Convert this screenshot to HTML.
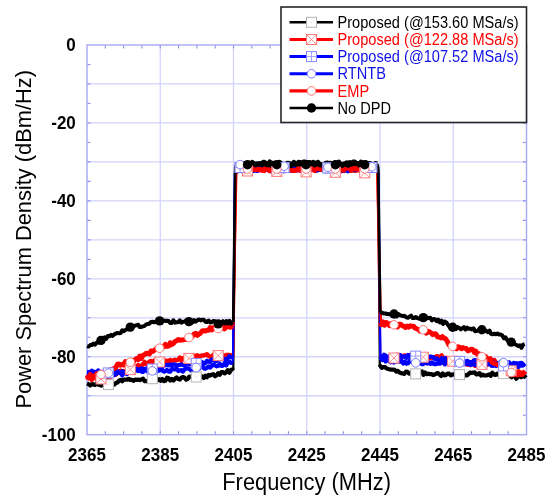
<!DOCTYPE html>
<html><head><meta charset="utf-8"><title>Power Spectrum Density</title>
<style>html,body{margin:0;padding:0;background:#fff;}svg{display:block;}</style>
</head><body>
<svg width="550" height="501" viewBox="0 0 550 501"><rect x="0" y="0" width="550" height="501" fill="#fff"/>
<path d="M160.25 45.0V434.7 M233.50 45.0V434.7 M306.75 45.0V434.7 M380.00 45.0V434.7 M453.25 45.0V434.7 M87.0 83.97H526.5 M87.0 122.94H526.5 M87.0 161.91H526.5 M87.0 200.88H526.5 M87.0 239.85H526.5 M87.0 278.82H526.5 M87.0 317.79H526.5 M87.0 356.76H526.5 M87.0 395.73H526.5" stroke="#d3d4fc" stroke-width="1.3" fill="none"/>
<path d="M105.31 434.7v-3.5M105.31 45.0v3.5 M123.62 434.7v-3.5M123.62 45.0v3.5 M141.94 434.7v-3.5M141.94 45.0v3.5 M160.25 434.7v-3.5M160.25 45.0v3.5 M178.56 434.7v-3.5M178.56 45.0v3.5 M196.88 434.7v-3.5M196.88 45.0v3.5 M215.19 434.7v-3.5M215.19 45.0v3.5 M233.50 434.7v-3.5M233.50 45.0v3.5 M251.81 434.7v-3.5M251.81 45.0v3.5 M270.12 434.7v-3.5M270.12 45.0v3.5 M288.44 434.7v-3.5M288.44 45.0v3.5 M306.75 434.7v-3.5M306.75 45.0v3.5 M325.06 434.7v-3.5M325.06 45.0v3.5 M343.38 434.7v-3.5M343.38 45.0v3.5 M361.69 434.7v-3.5M361.69 45.0v3.5 M380.00 434.7v-3.5M380.00 45.0v3.5 M398.31 434.7v-3.5M398.31 45.0v3.5 M416.62 434.7v-3.5M416.62 45.0v3.5 M434.94 434.7v-3.5M434.94 45.0v3.5 M453.25 434.7v-3.5M453.25 45.0v3.5 M471.56 434.7v-3.5M471.56 45.0v3.5 M489.88 434.7v-3.5M489.88 45.0v3.5 M508.19 434.7v-3.5M508.19 45.0v3.5 M87.0 64.48h3.5M526.5 64.48h-3.5 M87.0 83.97h3.5M526.5 83.97h-3.5 M87.0 103.45h3.5M526.5 103.45h-3.5 M87.0 122.94h3.5M526.5 122.94h-3.5 M87.0 142.43h3.5M526.5 142.43h-3.5 M87.0 161.91h3.5M526.5 161.91h-3.5 M87.0 181.39h3.5M526.5 181.39h-3.5 M87.0 200.88h3.5M526.5 200.88h-3.5 M87.0 220.37h3.5M526.5 220.37h-3.5 M87.0 239.85h3.5M526.5 239.85h-3.5 M87.0 259.34h3.5M526.5 259.34h-3.5 M87.0 278.82h3.5M526.5 278.82h-3.5 M87.0 298.31h3.5M526.5 298.31h-3.5 M87.0 317.79h3.5M526.5 317.79h-3.5 M87.0 337.27h3.5M526.5 337.27h-3.5 M87.0 356.76h3.5M526.5 356.76h-3.5 M87.0 376.25h3.5M526.5 376.25h-3.5 M87.0 395.73h3.5M526.5 395.73h-3.5 M87.0 415.21h3.5M526.5 415.21h-3.5" stroke="#8e8ef0" stroke-width="1.1" fill="none"/>
<rect x="87.0" y="45.0" width="439.5" height="389.7" stroke="#acadf3" stroke-width="1.5" fill="none"/>
<path d="M233.3 370.4 235.2 170.0 236.0 166.8 237.4 166.0 M376.0 166.0 377.4 166.8 378.2 170.0 379.8 367.0" stroke="#000" stroke-width="2.2" fill="none" stroke-linejoin="round"/><path d="M87.0 383.5 88.6 384.1 90.2 385.5 91.8 384.1 93.4 384.4 95.0 384.9 96.6 383.5 98.2 384.6 99.8 385.0 101.4 385.6 103.0 383.2 104.6 383.9 106.2 383.2 107.8 385.7 109.4 384.9 111.0 382.3 112.6 385.1 114.2 384.6 115.8 383.1 117.4 382.6 119.0 380.6 120.6 379.8 122.2 381.3 123.8 379.5 125.4 379.7 127.0 379.7 128.6 378.8 130.2 380.0 131.8 379.7 133.4 380.9 135.0 379.6 136.6 380.0 138.2 379.5 139.8 380.1 141.4 379.4 143.0 378.7 144.6 381.2 146.2 381.2 147.8 380.7 149.4 380.2 151.0 378.9 152.6 378.6 154.2 378.8 155.8 378.0 157.4 380.4 159.0 379.2 160.6 380.7 162.2 379.1 163.8 381.1 165.4 380.7 167.0 377.7 168.6 378.3 170.2 380.6 171.8 379.0 173.4 380.6 175.0 378.6 176.6 377.4 178.2 379.1 179.8 379.6 181.4 377.7 183.0 377.0 184.6 377.7 186.2 379.7 187.8 378.9 189.4 376.5 191.0 376.9 192.6 376.3 194.2 376.1 195.8 378.6 197.4 376.4 199.0 377.6 200.6 377.2 202.2 376.3 203.8 378.0 205.4 375.8 207.0 377.2 208.6 375.0 210.2 375.6 211.8 374.5 213.4 374.2 215.0 376.2 216.6 375.2 218.2 373.1 219.8 374.7 221.4 372.0 223.0 372.2 224.6 373.4 226.2 372.3 227.8 370.1 229.4 372.8 231.0 369.9 232.6 369.7 233.3 370.4 M379.8 367.0 380.3 365.9 381.9 367.8 383.5 367.1 385.1 367.1 386.7 368.5 388.3 369.0 389.9 369.4 391.5 369.7 393.1 369.5 394.7 369.8 396.3 371.7 397.9 370.9 399.5 372.5 401.1 373.1 402.7 373.5 404.3 373.9 405.9 371.6 407.5 371.8 409.1 373.6 410.7 373.2 412.3 371.9 413.9 373.5 415.5 374.2 417.1 374.0 418.7 371.9 420.3 372.2 421.9 371.4 423.5 374.8 425.1 372.4 426.7 374.2 428.3 373.7 429.9 374.1 431.5 374.0 433.1 375.1 434.7 374.5 436.3 373.6 437.9 373.1 439.5 374.5 441.1 376.0 442.7 373.4 444.3 375.3 445.9 375.1 447.5 373.5 449.1 373.7 450.7 375.3 452.3 374.5 453.9 374.4 455.5 374.6 457.1 373.3 458.7 375.4 460.3 375.0 461.9 374.7 463.5 373.9 465.1 375.5 466.7 375.4 468.3 374.4 469.9 372.7 471.5 372.8 473.1 372.7 474.7 372.4 476.3 374.4 477.9 374.1 479.5 373.1 481.1 375.6 482.7 374.7 484.3 375.3 485.9 375.5 487.5 375.1 489.1 374.4 490.7 375.8 492.3 372.7 493.9 374.5 495.5 375.0 497.1 373.6 498.7 374.8 500.3 372.6 501.9 373.4 503.5 373.3 505.1 374.1 506.7 375.6 508.3 374.1 509.9 375.2 511.5 377.3 513.1 375.8 514.7 375.7 516.3 378.7 517.9 377.1 519.5 375.4 521.1 377.2 522.7 375.8 524.3 375.9 525.9 377.8" stroke="#000" stroke-width="4.2" fill="none" stroke-linejoin="round"/><path d="M236.4 166.0 237.9 165.6 239.5 164.6 241.1 165.1 242.7 165.8 244.3 166.8 245.9 165.8 247.5 166.0 249.1 165.1 250.7 165.9 252.3 165.4 253.9 166.9 255.5 165.7 257.1 166.3 258.7 164.9 260.3 165.2 261.9 165.8 263.5 166.2 265.1 165.9 266.7 164.6 268.3 167.0 269.9 166.9 271.5 166.1 273.1 166.5 274.7 166.1 276.3 165.0 277.9 166.6 279.5 164.8 281.1 167.3 282.7 165.2 284.3 167.1 285.9 167.3 287.5 164.9 289.1 166.6 290.7 164.8 292.3 165.7 293.9 165.3 295.5 165.1 297.1 166.0 298.7 167.0 300.3 165.9 301.9 164.7 303.5 165.0 305.1 164.9 306.7 165.0 308.3 165.0 309.9 165.1 311.5 166.1 313.1 165.3 314.7 165.1 316.3 167.1 317.9 164.7 319.5 165.9 321.1 164.8 322.7 165.1 324.3 165.4 325.9 164.9 327.5 166.0 329.1 165.8 330.7 165.4 332.3 165.5 333.9 165.5 335.5 165.8 337.1 166.8 338.7 164.9 340.3 167.4 341.9 166.8 343.5 166.4 345.1 164.8 346.7 165.0 348.3 165.1 349.9 164.7 351.5 167.4 353.1 166.2 354.7 165.7 356.3 166.1 357.9 166.8 359.5 165.2 361.1 165.5 362.7 165.5 364.3 165.8 365.9 165.0 367.5 165.8 369.1 167.0 370.7 166.8 372.3 165.9 373.9 165.0 375.5 165.0 377.0 166.0" stroke="#000" stroke-width="4.2" fill="none" stroke-linejoin="round"/>
<path d="M233.3 354.2 236.0 173.5 236.8 170.3 238.2 169.5 M375.2 169.5 376.6 170.3 377.4 173.5 380.3 357.5" stroke="#ff0000" stroke-width="2.2" fill="none" stroke-linejoin="round"/><path d="M87.0 379.6 88.6 376.8 90.2 376.4 91.8 380.0 93.4 377.1 95.0 377.0 96.6 379.0 98.2 377.9 99.8 380.0 101.4 377.5 103.0 379.5 104.6 376.6 106.2 377.1 107.8 377.7 109.4 376.2 111.0 376.5 112.6 375.1 114.2 372.2 115.8 374.6 117.4 373.1 119.0 371.6 120.6 370.6 122.2 372.5 123.8 371.0 125.4 371.8 127.0 370.7 128.6 370.9 130.2 369.0 131.8 368.8 133.4 367.9 135.0 366.0 136.6 367.9 138.2 365.0 139.8 366.0 141.4 366.0 143.0 364.3 144.6 361.9 146.2 364.1 147.8 363.4 149.4 361.6 151.0 361.0 152.6 362.6 154.2 360.7 155.8 363.8 157.4 362.2 159.0 362.1 160.6 361.6 162.2 362.3 163.8 363.0 165.4 360.7 167.0 360.7 168.6 361.3 170.2 360.0 171.8 360.9 173.4 360.4 175.0 359.8 176.6 360.4 178.2 359.6 179.8 357.7 181.4 360.7 183.0 358.0 184.6 358.0 186.2 357.5 187.8 359.1 189.4 359.0 191.0 357.3 192.6 356.7 194.2 355.5 195.8 358.2 197.4 355.4 199.0 356.6 200.6 355.8 202.2 355.5 203.8 355.5 205.4 354.8 207.0 354.2 208.6 356.0 210.2 357.0 211.8 356.4 213.4 354.8 215.0 356.6 216.6 354.3 218.2 355.6 219.8 356.9 221.4 357.0 223.0 355.2 224.6 356.4 226.2 355.0 227.8 354.9 229.4 354.9 231.0 356.2 232.6 355.1 233.3 354.2 M380.3 357.5 380.8 357.7 382.4 357.0 384.0 358.8 385.6 356.9 387.2 357.8 388.8 357.2 390.4 357.5 392.0 359.6 393.6 356.5 395.2 357.8 396.8 356.6 398.4 356.6 400.0 358.5 401.6 355.7 403.2 356.3 404.8 355.3 406.4 356.5 408.0 355.7 409.6 354.9 411.2 356.0 412.8 356.1 414.4 357.7 416.0 357.1 417.6 356.0 419.2 357.9 420.8 356.7 422.4 357.7 424.0 356.9 425.6 357.6 427.2 358.7 428.8 357.5 430.4 358.2 432.0 358.0 433.6 357.2 435.2 357.2 436.8 356.1 438.4 356.6 440.0 357.0 441.6 355.4 443.2 359.2 444.8 357.9 446.4 357.9 448.0 358.7 449.6 360.2 451.2 360.0 452.8 361.7 454.4 361.9 456.0 362.8 457.6 362.3 459.2 364.0 460.8 363.2 462.4 362.0 464.0 364.1 465.6 363.6 467.2 364.7 468.8 364.1 470.4 365.1 472.0 362.6 473.6 363.1 475.2 365.8 476.8 362.6 478.4 366.0 480.0 366.2 481.6 363.6 483.2 363.3 484.8 365.4 486.4 364.9 488.0 363.9 489.6 362.8 491.2 362.3 492.8 360.6 494.4 360.1 496.0 363.0 497.6 364.5 499.2 365.4 500.8 364.4 502.4 363.2 504.0 364.4 505.6 366.4 507.2 367.2 508.8 368.1 510.4 370.3 512.0 373.0 513.6 371.7 515.2 371.8 516.8 372.0 518.4 371.6 520.0 374.4 521.6 374.8 523.2 372.5 524.8 374.1" stroke="#ff0000" stroke-width="4.4" fill="none" stroke-linejoin="round"/><path d="M237.2 169.5 238.7 168.4 240.3 170.8 241.9 169.1 243.5 170.5 245.1 169.6 246.7 170.0 248.3 170.2 249.9 170.6 251.5 168.7 253.1 168.1 254.7 168.8 256.3 170.2 257.9 170.5 259.5 169.1 261.1 168.3 262.7 169.2 264.3 170.9 265.9 169.4 267.5 168.1 269.1 170.6 270.7 168.5 272.3 168.9 273.9 170.9 275.5 169.9 277.1 170.1 278.7 169.4 280.3 169.0 281.9 169.6 283.5 169.8 285.1 168.2 286.7 168.3 288.3 170.6 289.9 170.1 291.5 169.6 293.1 170.8 294.7 168.6 296.3 168.3 297.9 170.3 299.5 170.2 301.1 169.9 302.7 169.7 304.3 170.4 305.9 170.0 307.5 169.0 309.1 170.3 310.7 168.6 312.3 168.5 313.9 168.4 315.5 170.9 317.1 169.0 318.7 169.8 320.3 168.3 321.9 169.8 323.5 169.5 325.1 170.1 326.7 169.4 328.3 168.1 329.9 169.4 331.5 168.8 333.1 168.6 334.7 168.0 336.3 170.0 337.9 168.4 339.5 168.0 341.1 168.8 342.7 168.8 344.3 170.8 345.9 168.8 347.5 168.6 349.1 170.1 350.7 170.9 352.3 169.9 353.9 170.6 355.5 170.9 357.1 170.2 358.7 169.2 360.3 169.1 361.9 169.4 363.5 169.4 365.1 170.2 366.7 168.1 368.3 168.7 369.9 168.3 371.5 168.5 373.1 168.3 374.7 169.1 376.2 169.5" stroke="#ff0000" stroke-width="4.4" fill="none" stroke-linejoin="round"/>
<path d="M233.0 357.5 234.8 174.0 235.6 170.8 237.0 170.0 M376.3 170.0 377.7 170.8 378.5 174.0 380.4 356.5" stroke="#0000ff" stroke-width="2.0" fill="none" stroke-linejoin="round"/><path d="M87.0 371.8 88.6 372.0 90.2 372.6 91.8 370.7 93.4 372.0 95.0 372.9 96.6 373.0 98.2 370.4 99.8 372.0 101.4 372.1 103.0 371.9 104.6 373.8 106.2 372.4 107.8 372.3 109.4 374.1 111.0 373.0 112.6 371.8 114.2 371.8 115.8 372.5 117.4 370.9 119.0 372.6 120.6 372.7 122.2 371.2 123.8 372.3 125.4 372.2 127.0 370.5 128.6 370.5 130.2 368.1 131.8 367.9 133.4 371.3 135.0 368.8 136.6 368.6 138.2 371.1 139.8 370.6 141.4 368.4 143.0 369.2 144.6 368.9 146.2 369.0 147.8 368.1 149.4 370.0 151.0 369.3 152.6 369.5 154.2 368.3 155.8 367.6 157.4 366.9 159.0 369.5 160.6 368.6 162.2 367.5 163.8 365.5 165.4 365.2 167.0 364.9 168.6 365.5 170.2 364.4 171.8 365.0 173.4 364.6 175.0 364.4 176.6 365.9 178.2 365.0 179.8 364.9 181.4 364.4 183.0 365.0 184.6 365.7 186.2 363.9 187.8 363.0 189.4 364.3 191.0 363.9 192.6 365.2 194.2 362.7 195.8 365.4 197.4 362.0 199.0 363.6 200.6 363.0 202.2 362.2 203.8 364.0 205.4 363.0 207.0 360.8 208.6 361.7 210.2 361.9 211.8 359.5 213.4 359.3 215.0 360.9 216.6 361.0 218.2 359.7 219.8 359.3 221.4 359.2 223.0 358.0 224.6 359.9 226.2 360.0 227.8 358.1 229.4 356.2 231.0 357.4 233.0 357.5 M380.4 356.5 380.9 356.4 382.5 357.9 384.1 354.8 385.7 355.7 387.3 358.2 388.9 357.1 390.5 355.2 392.1 356.0 393.7 357.9 395.3 356.3 396.9 354.8 398.5 357.8 400.1 355.0 401.7 356.9 403.3 356.7 404.9 356.1 406.5 357.9 408.1 355.0 409.7 356.5 411.3 354.7 412.9 357.8 414.5 354.8 416.1 356.1 417.7 357.4 419.3 357.8 420.9 355.2 422.5 358.2 424.1 358.2 425.7 356.5 427.3 358.3 428.9 356.6 430.5 356.6 432.1 356.8 433.7 357.5 435.3 359.6 436.9 358.5 438.5 360.6 440.1 360.4 441.7 358.2 443.3 359.2 444.9 358.0 446.5 360.1 448.1 360.4 449.7 360.5 451.3 358.9 452.9 361.0 454.5 359.4 456.1 362.2 457.7 361.1 459.3 360.0 460.9 363.2 462.5 363.2 464.1 361.0 465.7 363.2 467.3 360.9 468.9 361.8 470.5 362.0 472.1 362.8 473.7 360.3 475.3 360.2 476.9 360.7 478.5 361.5 480.1 363.1 481.7 363.1 483.3 361.2 484.9 363.8 486.5 362.1 488.1 361.8 489.7 363.7 491.3 365.6 492.9 365.9 494.5 364.5 496.1 366.1 497.7 364.2 499.3 364.4 500.9 367.6 502.5 366.8 504.1 365.3 505.7 365.5 507.3 366.6 508.9 363.6 510.5 363.6 512.1 365.4 513.7 362.9 515.3 363.2 516.9 363.3 518.5 363.6 520.1 363.0 521.7 362.9 523.3 365.0 524.9 364.9" stroke="#0000ff" stroke-width="4.2" fill="none" stroke-linejoin="round"/><path d="M236.0 170.0 237.5 171.4 239.1 169.1 240.7 169.3 242.3 171.2 243.9 168.7 245.5 168.7 247.1 170.6 248.7 169.2 250.3 169.6 251.9 169.6 253.5 170.9 255.1 169.0 256.7 171.0 258.3 170.5 259.9 168.7 261.5 169.9 263.1 168.8 264.7 170.0 266.3 169.9 267.9 168.6 269.5 169.7 271.1 171.4 272.7 169.4 274.3 169.5 275.9 171.1 277.5 170.2 279.1 169.9 280.7 169.4 282.3 168.6 283.9 171.2 285.5 169.3 287.1 170.6 288.7 170.1 290.3 170.6 291.9 169.7 293.5 170.4 295.1 168.7 296.7 170.4 298.3 168.6 299.9 170.5 301.5 169.6 303.1 170.3 304.7 171.3 306.3 169.3 307.9 169.4 309.5 170.8 311.1 169.0 312.7 169.5 314.3 169.8 315.9 170.5 317.5 170.4 319.1 169.3 320.7 169.0 322.3 169.6 323.9 169.0 325.5 171.4 327.1 170.2 328.7 171.1 330.3 169.2 331.9 169.3 333.5 170.9 335.1 168.5 336.7 169.3 338.3 170.9 339.9 169.5 341.5 171.2 343.1 170.2 344.7 170.7 346.3 168.9 347.9 171.2 349.5 169.7 351.1 168.6 352.7 169.2 354.3 170.2 355.9 169.9 357.5 169.2 359.1 169.0 360.7 169.1 362.3 169.9 363.9 169.2 365.5 171.3 367.1 168.9 368.7 168.8 370.3 169.4 371.9 170.3 373.5 170.5 375.1 170.3 377.3 170.0" stroke="#0000ff" stroke-width="4.2" fill="none" stroke-linejoin="round"/>
<path d="M233.0 362.5 234.8 173.3 235.6 170.1 237.0 169.3 M376.3 169.3 377.7 170.1 378.5 173.3 380.4 360.0" stroke="#0000ff" stroke-width="2.0" fill="none" stroke-linejoin="round"/><path d="M87.0 373.7 88.6 374.1 90.2 375.2 91.8 372.6 93.4 372.7 95.0 371.9 96.6 372.2 98.2 371.7 99.8 372.2 101.4 373.4 103.0 375.0 104.6 373.9 106.2 372.6 107.8 372.7 109.4 373.9 111.0 372.7 112.6 372.0 114.2 375.0 115.8 374.4 117.4 372.8 119.0 372.8 120.6 372.9 122.2 375.5 123.8 371.9 125.4 373.3 127.0 374.1 128.6 370.2 130.2 371.1 131.8 371.3 133.4 372.8 135.0 370.2 136.6 370.3 138.2 370.2 139.8 369.4 141.4 371.6 143.0 372.0 144.6 370.6 146.2 369.1 147.8 371.5 149.4 371.5 151.0 371.1 152.6 369.9 154.2 371.7 155.8 371.0 157.4 370.8 159.0 370.6 160.6 369.5 162.2 370.3 163.8 371.6 165.4 371.2 167.0 369.9 168.6 371.7 170.2 371.7 171.8 368.8 173.4 369.1 175.0 369.3 176.6 368.4 178.2 371.0 179.8 370.5 181.4 370.1 183.0 371.6 184.6 369.3 186.2 368.6 187.8 368.2 189.4 369.0 191.0 370.6 192.6 369.6 194.2 367.4 195.8 368.5 197.4 366.9 199.0 368.8 200.6 366.8 202.2 366.8 203.8 368.3 205.4 368.8 207.0 367.8 208.6 366.4 210.2 367.5 211.8 365.8 213.4 364.5 215.0 365.2 216.6 366.4 218.2 365.8 219.8 363.9 221.4 365.9 223.0 365.6 224.6 363.3 226.2 365.4 227.8 362.6 229.4 361.6 231.0 362.9 233.0 362.5 M380.4 360.0 380.9 359.1 382.5 360.1 384.1 359.0 385.7 361.5 387.3 359.5 388.9 360.7 390.5 362.2 392.1 360.4 393.7 362.6 395.3 361.9 396.9 361.3 398.5 361.7 400.1 361.7 401.7 361.0 403.3 363.5 404.9 361.5 406.5 363.7 408.1 363.3 409.7 360.5 411.3 361.4 412.9 362.4 414.5 363.7 416.1 361.5 417.7 363.1 419.3 362.2 420.9 363.7 422.5 364.2 424.1 363.6 425.7 361.5 427.3 363.5 428.9 362.4 430.5 363.8 432.1 362.5 433.7 364.0 435.3 364.3 436.9 363.7 438.5 363.7 440.1 363.6 441.7 362.9 443.3 361.4 444.9 364.4 446.5 362.5 448.1 361.0 449.7 362.5 451.3 362.5 452.9 361.7 454.5 364.5 456.1 361.5 457.7 364.4 459.3 363.2 460.9 361.9 462.5 362.6 464.1 362.9 465.7 361.8 467.3 364.1 468.9 363.8 470.5 365.0 472.1 364.5 473.7 364.4 475.3 365.2 476.9 365.0 478.5 364.0 480.1 363.6 481.7 363.5 483.3 364.5 484.9 364.8 486.5 364.4 488.1 364.4 489.7 361.4 491.3 362.7 492.9 361.5 494.5 363.2 496.1 363.1 497.7 363.0 499.3 364.0 500.9 361.6 502.5 363.4 504.1 362.8 505.7 361.9 507.3 365.1 508.9 362.2 510.5 364.1 512.1 364.8 513.7 365.5 515.3 367.2 516.9 365.8 518.5 367.0 520.1 365.0 521.7 365.7 523.3 364.6 524.9 366.5" stroke="#0000ff" stroke-width="4.2" fill="none" stroke-linejoin="round"/><path d="M236.0 169.3 237.5 170.2 239.1 168.9 240.7 170.1 242.3 169.1 243.9 170.0 245.5 170.2 247.1 170.4 248.7 169.9 250.3 170.8 251.9 169.5 253.5 169.3 255.1 167.8 256.7 170.5 258.3 168.8 259.9 167.9 261.5 168.3 263.1 169.0 264.7 168.6 266.3 169.9 267.9 168.6 269.5 169.1 271.1 168.3 272.7 170.6 274.3 170.2 275.9 169.9 277.5 168.5 279.1 168.5 280.7 169.7 282.3 168.6 283.9 168.5 285.5 168.9 287.1 168.9 288.7 169.5 290.3 170.5 291.9 169.7 293.5 167.9 295.1 169.1 296.7 169.6 298.3 168.5 299.9 169.8 301.5 168.6 303.1 168.4 304.7 170.3 306.3 168.5 307.9 169.6 309.5 169.3 311.1 170.1 312.7 168.5 314.3 168.9 315.9 169.5 317.5 169.3 319.1 169.7 320.7 169.3 322.3 169.7 323.9 169.9 325.5 168.0 327.1 169.8 328.7 167.9 330.3 168.1 331.9 169.3 333.5 168.7 335.1 169.2 336.7 169.4 338.3 167.9 339.9 168.7 341.5 170.0 343.1 168.4 344.7 168.9 346.3 167.8 347.9 170.5 349.5 170.3 351.1 169.6 352.7 168.3 354.3 169.7 355.9 168.7 357.5 168.8 359.1 170.1 360.7 168.7 362.3 168.8 363.9 169.1 365.5 168.1 367.1 170.4 368.7 168.1 370.3 170.5 371.9 167.9 373.5 170.8 375.1 169.7 377.3 169.3" stroke="#0000ff" stroke-width="4.2" fill="none" stroke-linejoin="round"/>
<path d="M233.3 326.0 236.4 173.0 237.2 169.8 238.6 169.0 M375.0 169.0 376.4 169.8 377.2 173.0 381.0 322.9" stroke="#ff0000" stroke-width="2.2" fill="none" stroke-linejoin="round"/><path d="M87.0 374.9 88.6 378.0 90.2 374.4 91.8 376.5 93.4 376.5 95.0 375.8 96.6 373.7 98.2 373.6 99.8 374.7 101.4 375.3 103.0 373.6 104.6 372.5 106.2 371.4 107.8 370.9 109.4 371.6 111.0 369.6 112.6 369.1 114.2 368.5 115.8 367.6 117.4 364.2 119.0 364.0 120.6 365.2 122.2 364.3 123.8 365.1 125.4 361.6 127.0 362.0 128.6 362.8 130.2 363.4 131.8 360.4 133.4 361.9 135.0 359.6 136.6 358.4 138.2 359.7 139.8 356.0 141.4 358.5 143.0 355.2 144.6 354.6 146.2 353.2 147.8 353.4 149.4 354.1 151.0 350.9 152.6 351.5 154.2 350.4 155.8 349.1 157.4 347.7 159.0 349.3 160.6 347.5 162.2 347.1 163.8 346.9 165.4 344.3 167.0 346.4 168.6 346.1 170.2 342.8 171.8 344.6 173.4 343.5 175.0 341.4 176.6 340.7 178.2 339.4 179.8 340.2 181.4 340.0 183.0 339.9 184.6 339.6 186.2 339.5 187.8 337.5 189.4 337.4 191.0 337.6 192.6 336.1 194.2 333.8 195.8 333.3 197.4 335.4 199.0 334.1 200.6 333.1 202.2 331.0 203.8 330.6 205.4 331.1 207.0 330.3 208.6 330.3 210.2 327.6 211.8 330.0 213.4 327.6 215.0 327.9 216.6 328.4 218.2 329.8 219.8 327.4 221.4 328.1 223.0 326.2 224.6 328.9 226.2 325.9 227.8 326.9 229.4 327.2 231.0 327.1 232.6 325.8 233.3 326.0 M381.0 322.9 381.5 324.7 383.1 321.9 384.7 325.3 386.3 322.5 387.9 323.7 389.5 325.6 391.1 323.6 392.7 324.5 394.3 323.3 395.9 326.7 397.5 327.1 399.1 324.1 400.7 324.1 402.3 325.8 403.9 326.2 405.5 327.5 407.1 326.0 408.7 327.3 410.3 325.8 411.9 326.3 413.5 326.1 415.1 328.2 416.7 328.7 418.3 329.4 419.9 331.1 421.5 329.0 423.1 329.6 424.7 330.6 426.3 333.2 427.9 331.2 429.5 331.8 431.1 332.9 432.7 334.6 434.3 333.6 435.9 333.9 437.5 336.9 439.1 337.1 440.7 337.9 442.3 336.5 443.9 338.2 445.5 338.6 447.1 341.0 448.7 344.5 450.3 346.2 451.9 347.0 453.5 346.1 455.1 347.1 456.7 348.7 458.3 346.8 459.9 347.3 461.5 348.8 463.1 347.6 464.7 348.4 466.3 348.5 467.9 350.9 469.5 350.3 471.1 349.2 472.7 349.4 474.3 352.5 475.9 351.2 477.5 354.5 479.1 353.7 480.7 356.0 482.3 356.2 483.9 358.0 485.5 356.4 487.1 358.1 488.7 359.6 490.3 358.6 491.9 362.3 493.5 363.0 495.1 363.7 496.7 364.2 498.3 365.0 499.9 364.1 501.5 365.9 503.1 364.8 504.7 364.1 506.3 369.4 507.9 371.5 509.5 371.0 511.1 373.5 512.7 372.9 514.3 374.7 515.9 372.5 517.5 375.0 519.1 371.9 520.7 373.2 522.3 374.4 523.9 372.9 525.5 371.2" stroke="#ff0000" stroke-width="4.9" fill="none" stroke-linejoin="round"/><path d="M237.6 169.0 239.1 167.6 240.7 168.5 242.3 169.2 243.9 168.0 245.5 168.8 247.1 169.9 248.7 170.0 250.3 169.8 251.9 168.7 253.5 169.3 255.1 169.6 256.7 169.8 258.3 169.1 259.9 169.4 261.5 170.3 263.1 167.9 264.7 169.9 266.3 167.8 267.9 168.5 269.5 170.7 271.1 168.8 272.7 169.9 274.3 168.6 275.9 169.8 277.5 167.7 279.1 168.8 280.7 168.2 282.3 169.9 283.9 169.9 285.5 170.7 287.1 168.9 288.7 169.8 290.3 169.3 291.9 170.3 293.5 170.5 295.1 170.5 296.7 169.8 298.3 168.5 299.9 169.6 301.5 170.7 303.1 168.6 304.7 169.1 306.3 167.6 307.9 169.9 309.5 168.1 311.1 169.2 312.7 168.0 314.3 170.5 315.9 168.8 317.5 168.8 319.1 168.1 320.7 169.4 322.3 167.6 323.9 168.3 325.5 169.5 327.1 168.3 328.7 169.2 330.3 168.5 331.9 169.0 333.5 168.1 335.1 169.3 336.7 168.3 338.3 168.8 339.9 170.4 341.5 169.5 343.1 170.3 344.7 169.4 346.3 167.6 347.9 167.8 349.5 168.0 351.1 170.5 352.7 168.5 354.3 168.4 355.9 169.2 357.5 167.9 359.1 169.9 360.7 170.7 362.3 169.0 363.9 169.1 365.5 167.9 367.1 168.4 368.7 170.0 370.3 170.6 371.9 170.3 373.5 167.8 376.0 169.0" stroke="#ff0000" stroke-width="4.9" fill="none" stroke-linejoin="round"/>
<path d="M233.3 322.0 235.2 167.9 236.0 164.7 237.4 163.9 M376.0 163.9 377.4 164.7 378.2 167.9 380.2 312.7" stroke="#000" stroke-width="2.7" fill="none" stroke-linejoin="round"/><path d="M87.0 346.1 88.6 346.6 90.2 345.1 91.8 345.0 93.4 343.5 95.0 344.7 96.6 342.8 98.2 342.5 99.8 342.2 101.4 339.8 103.0 339.1 104.6 337.3 106.2 338.9 107.8 335.9 109.4 336.3 111.0 334.9 112.6 336.0 114.2 334.3 115.8 333.6 117.4 332.9 119.0 333.2 120.6 333.0 122.2 330.3 123.8 331.3 125.4 330.0 127.0 329.2 128.6 329.3 130.2 326.0 131.8 326.1 133.4 326.4 135.0 325.6 136.6 325.3 138.2 324.7 139.8 327.0 141.4 326.9 143.0 326.4 144.6 325.9 146.2 324.4 147.8 323.9 149.4 323.7 151.0 321.9 152.6 321.7 154.2 322.3 155.8 321.6 157.4 321.9 159.0 321.3 160.6 319.4 162.2 321.7 163.8 320.5 165.4 320.9 167.0 320.7 168.6 320.9 170.2 322.9 171.8 323.0 173.4 320.3 175.0 322.7 176.6 322.2 178.2 322.2 179.8 320.3 181.4 322.6 183.0 321.8 184.6 321.6 186.2 320.5 187.8 322.4 189.4 321.3 191.0 321.1 192.6 322.5 194.2 320.2 195.8 321.6 197.4 320.2 199.0 319.4 200.6 320.4 202.2 319.7 203.8 319.8 205.4 321.7 207.0 322.0 208.6 320.5 210.2 322.6 211.8 322.2 213.4 320.9 215.0 321.2 216.6 323.5 218.2 324.4 219.8 324.0 221.4 323.1 223.0 321.2 224.6 323.4 226.2 321.0 227.8 323.3 229.4 320.8 231.0 323.7 232.6 322.0 233.3 322.0 M380.2 312.7 380.7 312.0 382.3 313.0 383.9 313.5 385.5 313.4 387.1 314.1 388.7 314.1 390.3 314.5 391.9 313.7 393.5 313.7 395.1 314.5 396.7 316.4 398.3 314.0 399.9 315.2 401.5 315.6 403.1 316.1 404.7 315.8 406.3 317.4 407.9 317.8 409.5 316.7 411.1 315.6 412.7 318.1 414.3 318.1 415.9 317.0 417.5 318.2 419.1 318.7 420.7 319.0 422.3 316.7 423.9 316.8 425.5 319.2 427.1 317.7 428.7 318.1 430.3 317.7 431.9 320.5 433.5 319.1 435.1 319.2 436.7 321.1 438.3 319.7 439.9 322.5 441.5 320.6 443.1 324.0 444.7 321.6 446.3 322.5 447.9 324.7 449.5 326.8 451.1 326.9 452.7 328.3 454.3 326.9 455.9 329.1 457.5 327.0 459.1 327.9 460.7 329.4 462.3 328.2 463.9 327.2 465.5 329.6 467.1 327.6 468.7 328.8 470.3 328.7 471.9 329.4 473.5 328.3 475.1 331.2 476.7 331.0 478.3 330.2 479.9 329.6 481.5 330.1 483.1 329.8 484.7 330.5 486.3 330.9 487.9 332.2 489.5 330.5 491.1 333.9 492.7 334.3 494.3 333.7 495.9 334.3 497.5 333.5 499.1 334.6 500.7 334.6 502.3 335.5 503.9 338.3 505.5 337.3 507.1 340.0 508.7 341.2 510.3 341.0 511.9 342.9 513.5 343.4 515.1 344.3 516.7 345.1 518.3 346.1 519.9 345.3 521.5 347.8 523.1 344.7 524.7 344.1" stroke="#000" stroke-width="4.0" fill="none" stroke-linejoin="round"/><path d="M236.4 163.9 237.9 165.3 239.5 164.0 241.1 163.7 242.7 163.5 244.3 163.9 245.9 164.1 247.5 165.5 249.1 164.1 250.7 165.4 252.3 162.6 253.9 163.6 255.5 164.7 257.1 163.8 258.7 163.9 260.3 163.6 261.9 164.7 263.5 162.3 265.1 162.9 266.7 164.7 268.3 164.7 269.9 162.1 271.5 165.5 273.1 163.4 274.7 163.4 276.3 163.6 277.9 164.8 279.5 162.4 281.1 163.9 282.7 165.4 284.3 164.9 285.9 165.0 287.5 163.3 289.1 163.5 290.7 165.6 292.3 164.5 293.9 162.5 295.5 164.5 297.1 163.9 298.7 162.4 300.3 162.5 301.9 164.5 303.5 162.1 305.1 162.2 306.7 163.8 308.3 162.7 309.9 162.5 311.5 163.8 313.1 162.5 314.7 164.8 316.3 163.1 317.9 162.5 319.5 164.7 321.1 164.8 322.7 165.0 324.3 165.0 325.9 163.3 327.5 163.1 329.1 163.8 330.7 163.3 332.3 164.7 333.9 164.9 335.5 165.1 337.1 163.5 338.7 162.2 340.3 164.3 341.9 165.6 343.5 164.1 345.1 164.4 346.7 162.9 348.3 165.2 349.9 162.8 351.5 164.1 353.1 162.2 354.7 162.2 356.3 163.5 357.9 163.5 359.5 165.1 361.1 162.2 362.7 165.1 364.3 165.3 365.9 162.7 367.5 165.6 369.1 163.7 370.7 163.8 372.3 165.5 373.9 165.2 375.5 163.5 377.0 163.9" stroke="#000" stroke-width="5.2" fill="none" stroke-linejoin="round"/>
<rect x="103.4" y="379.6" width="10" height="10" fill="#fff" stroke="#b4b4b4" stroke-width="1"/><rect x="107.9" y="384.1" width="1" height="1" fill="#d0d0d0"/><rect x="147.3" y="373.7" width="10" height="10" fill="#fff" stroke="#b4b4b4" stroke-width="1"/><rect x="151.8" y="378.2" width="1" height="1" fill="#d0d0d0"/><rect x="191.2" y="372.0" width="10" height="10" fill="#fff" stroke="#b4b4b4" stroke-width="1"/><rect x="195.7" y="376.5" width="1" height="1" fill="#d0d0d0"/><rect x="235.1" y="162.5" width="10" height="10" fill="#fff" stroke="#b4b4b4" stroke-width="1"/><rect x="239.6" y="167.0" width="1" height="1" fill="#d0d0d0"/><rect x="279.0" y="162.5" width="10" height="10" fill="#fff" stroke="#b4b4b4" stroke-width="1"/><rect x="283.5" y="167.0" width="1" height="1" fill="#d0d0d0"/><rect x="322.9" y="163.0" width="10" height="10" fill="#fff" stroke="#b4b4b4" stroke-width="1"/><rect x="327.4" y="167.5" width="1" height="1" fill="#d0d0d0"/><rect x="366.8" y="162.5" width="10" height="10" fill="#fff" stroke="#b4b4b4" stroke-width="1"/><rect x="371.3" y="167.0" width="1" height="1" fill="#d0d0d0"/><rect x="410.7" y="368.9" width="10" height="10" fill="#fff" stroke="#b4b4b4" stroke-width="1"/><rect x="415.2" y="373.4" width="1" height="1" fill="#d0d0d0"/><rect x="454.6" y="369.6" width="10" height="10" fill="#fff" stroke="#b4b4b4" stroke-width="1"/><rect x="459.1" y="374.1" width="1" height="1" fill="#d0d0d0"/><rect x="498.5" y="368.6" width="10" height="10" fill="#fff" stroke="#b4b4b4" stroke-width="1"/><rect x="503.0" y="373.1" width="1" height="1" fill="#d0d0d0"/>
<rect x="96.0" y="374.0" width="10" height="10" fill="#fff" stroke="#ff7a7a" stroke-width="1"/><path d="M96.0 374.0L106.0 384.0M106.0 374.0L96.0 384.0" stroke="#ff7a7a" stroke-width="0.8"/><rect x="125.3" y="364.6" width="10" height="10" fill="#fff" stroke="#ff7a7a" stroke-width="1"/><path d="M125.3 364.6L135.3 374.6M135.3 364.6L125.3 374.6" stroke="#ff7a7a" stroke-width="0.8"/><rect x="154.6" y="357.0" width="10" height="10" fill="#fff" stroke="#ff7a7a" stroke-width="1"/><path d="M154.6 357.0L164.6 367.0M164.6 357.0L154.6 367.0" stroke="#ff7a7a" stroke-width="0.8"/><rect x="183.9" y="353.4" width="10" height="10" fill="#fff" stroke="#ff7a7a" stroke-width="1"/><path d="M183.9 353.4L193.9 363.4M193.9 353.4L183.9 363.4" stroke="#ff7a7a" stroke-width="0.8"/><rect x="213.2" y="350.6" width="10" height="10" fill="#fff" stroke="#ff7a7a" stroke-width="1"/><path d="M213.2 350.6L223.2 360.6M223.2 350.6L213.2 360.6" stroke="#ff7a7a" stroke-width="0.8"/><rect x="242.5" y="166.0" width="10" height="10" fill="#fff" stroke="#ff7a7a" stroke-width="1"/><path d="M242.5 166.0L252.5 176.0M252.5 166.0L242.5 176.0" stroke="#ff7a7a" stroke-width="0.8"/><rect x="271.8" y="166.4" width="10" height="10" fill="#fff" stroke="#ff7a7a" stroke-width="1"/><path d="M271.8 166.4L281.8 176.4M281.8 166.4L271.8 176.4" stroke="#ff7a7a" stroke-width="0.8"/><rect x="301.1" y="166.9" width="10" height="10" fill="#fff" stroke="#ff7a7a" stroke-width="1"/><path d="M301.1 166.9L311.1 176.9M311.1 166.9L301.1 176.9" stroke="#ff7a7a" stroke-width="0.8"/><rect x="330.4" y="167.3" width="10" height="10" fill="#fff" stroke="#ff7a7a" stroke-width="1"/><path d="M330.4 167.3L340.4 177.3M340.4 167.3L330.4 177.3" stroke="#ff7a7a" stroke-width="0.8"/><rect x="359.7" y="167.8" width="10" height="10" fill="#fff" stroke="#ff7a7a" stroke-width="1"/><path d="M359.7 167.8L369.7 177.8M369.7 167.8L359.7 177.8" stroke="#ff7a7a" stroke-width="0.8"/><rect x="389.0" y="353.0" width="10" height="10" fill="#fff" stroke="#ff7a7a" stroke-width="1"/><path d="M389.0 353.0L399.0 363.0M399.0 353.0L389.0 363.0" stroke="#ff7a7a" stroke-width="0.8"/><rect x="418.3" y="352.2" width="10" height="10" fill="#fff" stroke="#ff7a7a" stroke-width="1"/><path d="M418.3 352.2L428.3 362.2M428.3 352.2L418.3 362.2" stroke="#ff7a7a" stroke-width="0.8"/><rect x="447.6" y="356.2" width="10" height="10" fill="#fff" stroke="#ff7a7a" stroke-width="1"/><path d="M447.6 356.2L457.6 366.2M457.6 356.2L447.6 366.2" stroke="#ff7a7a" stroke-width="0.8"/><rect x="476.9" y="359.4" width="10" height="10" fill="#fff" stroke="#ff7a7a" stroke-width="1"/><path d="M476.9 359.4L486.9 369.4M486.9 359.4L476.9 369.4" stroke="#ff7a7a" stroke-width="0.8"/><rect x="506.2" y="365.8" width="10" height="10" fill="#fff" stroke="#ff7a7a" stroke-width="1"/><path d="M506.2 365.8L516.2 375.8M516.2 365.8L506.2 375.8" stroke="#ff7a7a" stroke-width="0.8"/>
<rect x="103.4" y="367.9" width="10" height="10" fill="#fff" stroke="#8a8aff" stroke-width="1"/><path d="M108.4 367.9V377.9M103.4 372.9H113.4" stroke="#8a8aff" stroke-width="0.8"/><rect x="147.3" y="364.0" width="10" height="10" fill="#fff" stroke="#8a8aff" stroke-width="1"/><path d="M152.3 364.0V374.0M147.3 369.0H157.3" stroke="#8a8aff" stroke-width="0.8"/><rect x="191.2" y="358.4" width="10" height="10" fill="#fff" stroke="#8a8aff" stroke-width="1"/><path d="M196.2 358.4V368.4M191.2 363.4H201.2" stroke="#8a8aff" stroke-width="0.8"/><rect x="235.1" y="162.5" width="10" height="10" fill="#fff" stroke="#8a8aff" stroke-width="1"/><path d="M240.1 162.5V172.5M235.1 167.5H245.1" stroke="#8a8aff" stroke-width="0.8"/><rect x="279.0" y="162.5" width="10" height="10" fill="#fff" stroke="#8a8aff" stroke-width="1"/><path d="M284.0 162.5V172.5M279.0 167.5H289.0" stroke="#8a8aff" stroke-width="0.8"/><rect x="322.9" y="163.0" width="10" height="10" fill="#fff" stroke="#8a8aff" stroke-width="1"/><path d="M327.9 163.0V173.0M322.9 168.0H332.9" stroke="#8a8aff" stroke-width="0.8"/><rect x="366.8" y="162.5" width="10" height="10" fill="#fff" stroke="#8a8aff" stroke-width="1"/><path d="M371.8 162.5V172.5M366.8 167.5H376.8" stroke="#8a8aff" stroke-width="0.8"/><rect x="410.7" y="351.1" width="10" height="10" fill="#fff" stroke="#8a8aff" stroke-width="1"/><path d="M415.7 351.1V361.1M410.7 356.1H420.7" stroke="#8a8aff" stroke-width="0.8"/><rect x="454.6" y="356.4" width="10" height="10" fill="#fff" stroke="#8a8aff" stroke-width="1"/><path d="M459.6 356.4V366.4M454.6 361.4H464.6" stroke="#8a8aff" stroke-width="0.8"/><rect x="498.5" y="360.9" width="10" height="10" fill="#fff" stroke="#8a8aff" stroke-width="1"/><path d="M503.5 360.9V370.9M498.5 365.9H508.5" stroke="#8a8aff" stroke-width="0.8"/>
<circle cx="108.4" cy="373.1" r="4.3" fill="#fff" stroke="#7e7eff" stroke-width="1"/><circle cx="152.3" cy="370.9" r="4.3" fill="#fff" stroke="#7e7eff" stroke-width="1"/><circle cx="196.2" cy="367.6" r="4.3" fill="#fff" stroke="#7e7eff" stroke-width="1"/><circle cx="240.1" cy="164.6" r="4.3" fill="#fff" stroke="#7e7eff" stroke-width="1"/><circle cx="284.0" cy="166.2" r="4.3" fill="#fff" stroke="#7e7eff" stroke-width="1"/><circle cx="327.9" cy="167.3" r="4.3" fill="#fff" stroke="#7e7eff" stroke-width="1"/><circle cx="371.8" cy="166.8" r="4.3" fill="#fff" stroke="#7e7eff" stroke-width="1"/><circle cx="415.7" cy="362.8" r="4.3" fill="#fff" stroke="#7e7eff" stroke-width="1"/><circle cx="459.6" cy="363.1" r="4.3" fill="#fff" stroke="#7e7eff" stroke-width="1"/><circle cx="503.5" cy="362.7" r="4.3" fill="#fff" stroke="#7e7eff" stroke-width="1"/>
<circle cx="101.0" cy="374.5" r="4.3" fill="#fff" stroke="#ff7474" stroke-width="1"/><circle cx="130.3" cy="362.2" r="4.3" fill="#fff" stroke="#ff7474" stroke-width="1"/><circle cx="159.6" cy="348.2" r="4.3" fill="#fff" stroke="#ff7474" stroke-width="1"/><circle cx="188.9" cy="337.5" r="4.3" fill="#fff" stroke="#ff7474" stroke-width="1"/><circle cx="218.2" cy="328.5" r="4.3" fill="#fff" stroke="#ff7474" stroke-width="1"/><circle cx="247.5" cy="169.0" r="4.3" fill="#fff" stroke="#ff7474" stroke-width="1"/><circle cx="276.8" cy="169.0" r="4.3" fill="#fff" stroke="#ff7474" stroke-width="1"/><circle cx="306.1" cy="169.0" r="4.3" fill="#fff" stroke="#ff7474" stroke-width="1"/><circle cx="335.4" cy="169.0" r="4.3" fill="#fff" stroke="#ff7474" stroke-width="1"/><circle cx="364.7" cy="169.0" r="4.3" fill="#fff" stroke="#ff7474" stroke-width="1"/><circle cx="394.0" cy="324.8" r="4.3" fill="#fff" stroke="#ff7474" stroke-width="1"/><circle cx="423.3" cy="329.8" r="4.3" fill="#fff" stroke="#ff7474" stroke-width="1"/><circle cx="452.6" cy="346.4" r="4.3" fill="#fff" stroke="#ff7474" stroke-width="1"/><circle cx="481.9" cy="356.7" r="4.3" fill="#fff" stroke="#ff7474" stroke-width="1"/><circle cx="511.2" cy="372.5" r="4.3" fill="#fff" stroke="#ff7474" stroke-width="1"/>
<circle cx="101.0" cy="340.4" r="4.7" fill="#000"/><circle cx="130.3" cy="327.1" r="4.7" fill="#000"/><circle cx="159.6" cy="320.9" r="4.7" fill="#000"/><circle cx="188.9" cy="321.6" r="4.7" fill="#000"/><circle cx="218.2" cy="323.9" r="4.7" fill="#000"/><circle cx="247.5" cy="164.8" r="4.7" fill="#000"/><circle cx="276.8" cy="164.8" r="4.7" fill="#000"/><circle cx="306.1" cy="164.8" r="4.7" fill="#000"/><circle cx="335.4" cy="164.8" r="4.7" fill="#000"/><circle cx="364.7" cy="164.8" r="4.7" fill="#000"/><circle cx="394.0" cy="314.0" r="4.7" fill="#000"/><circle cx="423.3" cy="317.6" r="4.7" fill="#000"/><circle cx="452.6" cy="327.3" r="4.7" fill="#000"/><circle cx="481.9" cy="329.8" r="4.7" fill="#000"/><circle cx="511.2" cy="342.1" r="4.7" fill="#000"/>
<text transform="translate(75.8 50.80) scale(1 1.035)" text-anchor="end" font-family="&apos;Liberation Sans&apos;, Arial, sans-serif" font-weight="bold" font-size="17">0</text>
<text transform="translate(75.8 128.74) scale(1 1.035)" text-anchor="end" font-family="&apos;Liberation Sans&apos;, Arial, sans-serif" font-weight="bold" font-size="17">-20</text>
<text transform="translate(75.8 206.68) scale(1 1.035)" text-anchor="end" font-family="&apos;Liberation Sans&apos;, Arial, sans-serif" font-weight="bold" font-size="17">-40</text>
<text transform="translate(75.8 284.62) scale(1 1.035)" text-anchor="end" font-family="&apos;Liberation Sans&apos;, Arial, sans-serif" font-weight="bold" font-size="17">-60</text>
<text transform="translate(75.8 362.56) scale(1 1.035)" text-anchor="end" font-family="&apos;Liberation Sans&apos;, Arial, sans-serif" font-weight="bold" font-size="17">-80</text>
<text transform="translate(75.8 440.50) scale(1 1.035)" text-anchor="end" font-family="&apos;Liberation Sans&apos;, Arial, sans-serif" font-weight="bold" font-size="17">-100</text>
<text transform="translate(87.00 460.7) scale(1 1.05)" text-anchor="middle" font-family="&apos;Liberation Sans&apos;, Arial, sans-serif" font-weight="bold" font-size="17">2365</text>
<text transform="translate(160.25 460.7) scale(1 1.05)" text-anchor="middle" font-family="&apos;Liberation Sans&apos;, Arial, sans-serif" font-weight="bold" font-size="17">2385</text>
<text transform="translate(233.50 460.7) scale(1 1.05)" text-anchor="middle" font-family="&apos;Liberation Sans&apos;, Arial, sans-serif" font-weight="bold" font-size="17">2405</text>
<text transform="translate(306.75 460.7) scale(1 1.05)" text-anchor="middle" font-family="&apos;Liberation Sans&apos;, Arial, sans-serif" font-weight="bold" font-size="17">2425</text>
<text transform="translate(380.00 460.7) scale(1 1.05)" text-anchor="middle" font-family="&apos;Liberation Sans&apos;, Arial, sans-serif" font-weight="bold" font-size="17">2445</text>
<text transform="translate(453.25 460.7) scale(1 1.05)" text-anchor="middle" font-family="&apos;Liberation Sans&apos;, Arial, sans-serif" font-weight="bold" font-size="17">2465</text>
<text transform="translate(526.50 460.7) scale(1 1.05)" text-anchor="middle" font-family="&apos;Liberation Sans&apos;, Arial, sans-serif" font-weight="bold" font-size="17">2485</text>
<text transform="translate(306.6 489.8) scale(1 1.07)" text-anchor="middle" font-family="&apos;Liberation Sans&apos;, Arial, sans-serif" font-size="21.85">Frequency (MHz)</text>
<text transform="translate(30.5 239.3) rotate(-90) scale(1 1.035)" x="0" y="0" text-anchor="middle" font-family="&apos;Liberation Sans&apos;, Arial, sans-serif" font-size="21.85">Power Spectrum Density (dBm/Hz)</text>
<rect x="281" y="7" width="245.5" height="115.5" fill="#fff" stroke="#262626" stroke-width="1.6"/>
<path d="M289.5 22.30H333" stroke="#000" stroke-width="2.6"/>
<rect x="306.5" y="17.3" width="10" height="10" fill="#fff" stroke="#b4b4b4" stroke-width="1"/><rect x="311.0" y="21.8" width="1" height="1" fill="#d0d0d0"/>
<text transform="translate(337.5 27.90) scale(1 1.08)" fill="#000" font-family="&apos;Liberation Sans&apos;, Arial, sans-serif" font-size="14.6">Proposed (@153.60 MSa/s)</text>
<path d="M289.5 39.45H333" stroke="#ff0000" stroke-width="3.0"/>
<rect x="306.5" y="34.5" width="10" height="10" fill="#fff" stroke="#ff7a7a" stroke-width="1"/><path d="M306.5 34.5L316.5 44.5M316.5 34.5L306.5 44.5" stroke="#ff7a7a" stroke-width="0.8"/>
<text transform="translate(337.5 45.05) scale(1 1.08)" fill="#ff0000" font-family="&apos;Liberation Sans&apos;, Arial, sans-serif" font-size="14.6">Proposed (@122.88 MSa/s)</text>
<path d="M289.5 56.60H333" stroke="#0000ff" stroke-width="3.0"/>
<rect x="306.5" y="51.6" width="10" height="10" fill="#fff" stroke="#8a8aff" stroke-width="1"/><path d="M311.5 51.6V61.6M306.5 56.6H316.5" stroke="#8a8aff" stroke-width="0.8"/>
<text transform="translate(337.5 62.20) scale(1 1.08)" fill="#1010e8" font-family="&apos;Liberation Sans&apos;, Arial, sans-serif" font-size="14.6">Proposed (@107.52 MSa/s)</text>
<path d="M289.5 73.75H333" stroke="#0000ff" stroke-width="2.8"/>
<circle cx="311.5" cy="73.8" r="4.3" fill="#fff" stroke="#7e7eff" stroke-width="1"/>
<text transform="translate(337.5 79.35) scale(1 1.08)" fill="#1010e8" font-family="&apos;Liberation Sans&apos;, Arial, sans-serif" font-size="14.6">RTNTB</text>
<path d="M289.5 90.90H333" stroke="#ff0000" stroke-width="3.4"/>
<circle cx="311.5" cy="90.9" r="4.3" fill="#fff" stroke="#ff7474" stroke-width="1"/>
<text transform="translate(337.5 96.50) scale(1 1.08)" fill="#ff0000" font-family="&apos;Liberation Sans&apos;, Arial, sans-serif" font-size="14.6">EMP</text>
<path d="M289.5 108.05H333" stroke="#000" stroke-width="2.6"/>
<circle cx="311.5" cy="108.0" r="4.7" fill="#000"/>
<text transform="translate(337.5 113.65) scale(1 1.08)" fill="#000" font-family="&apos;Liberation Sans&apos;, Arial, sans-serif" font-size="14.6">No DPD</text></svg>
</body></html>
